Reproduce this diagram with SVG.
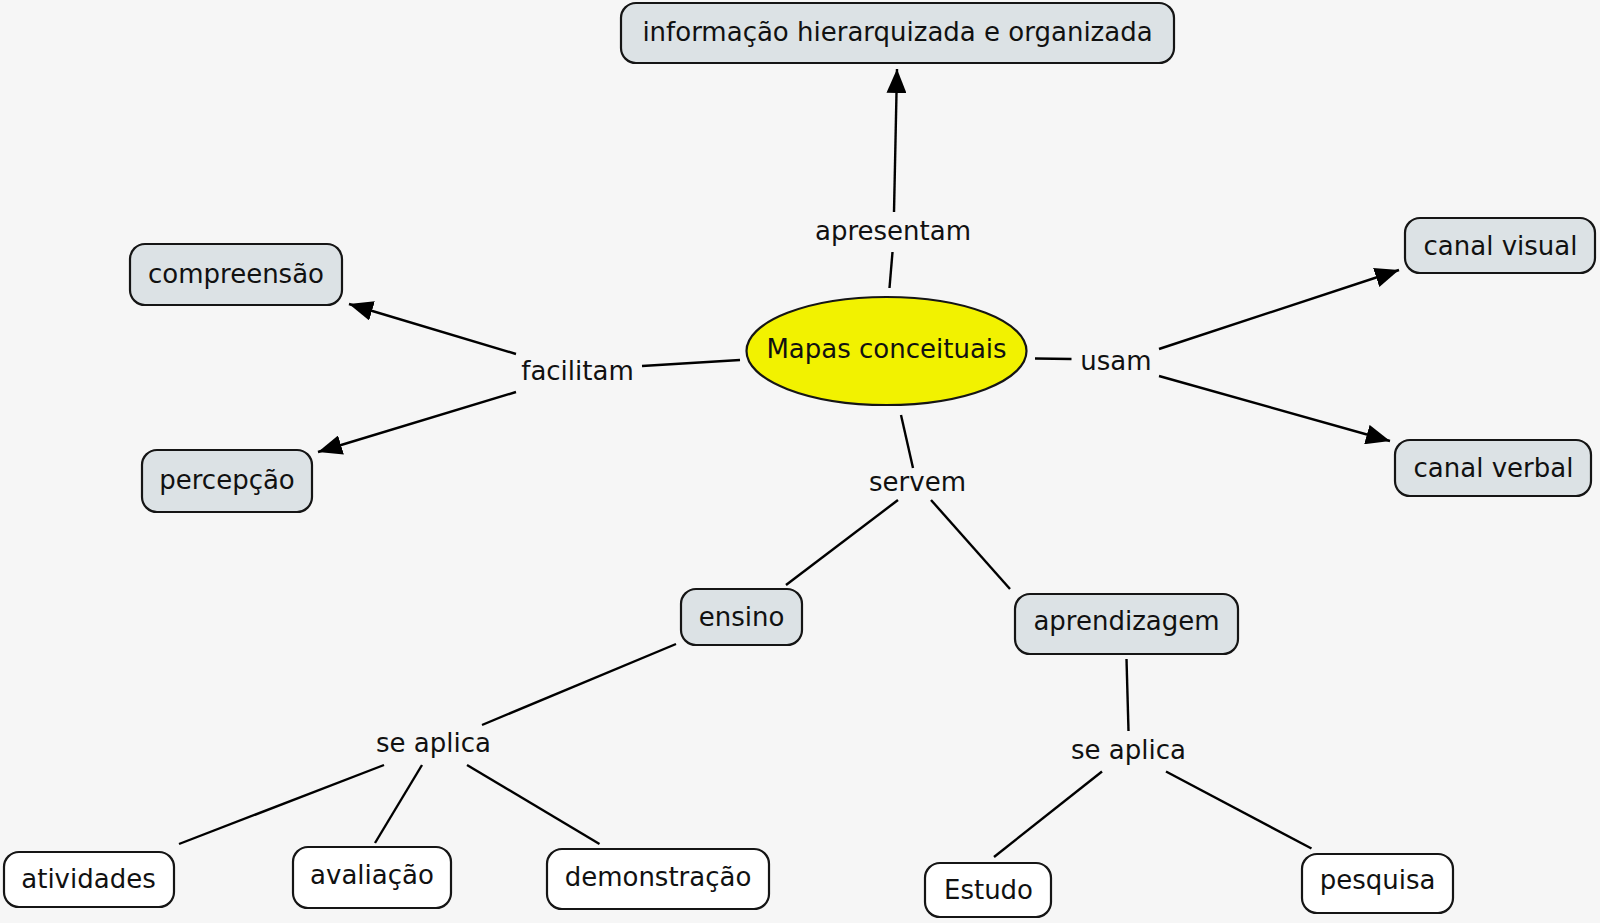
<svg xmlns="http://www.w3.org/2000/svg" width="1600" height="923" viewBox="0 0 1600 923">
<defs>
<marker id="arr" viewBox="0 0 24 20" refX="24" refY="10" markerWidth="24" markerHeight="20" markerUnits="userSpaceOnUse" orient="auto">
<path d="M0,0 L24,10 L0,20 Z" fill="#000"/>
</marker>
</defs>
<style>
text{font-family:"DejaVu Sans","Liberation Sans",sans-serif;font-size:26px;fill:#111111;text-anchor:middle}
.box{fill:#dce2e5;stroke:#151515;stroke-width:2.2}
.wbox{fill:#ffffff;stroke:#151515;stroke-width:2.2}
.ln{stroke:#000;stroke-width:2.4;fill:none}
.ar{stroke:#000;stroke-width:2.4;fill:none;marker-end:url(#arr)}
</style>
<rect width="1600" height="923" fill="#f6f6f6"/>
<g id="connectors">
<line class="ar" x1="894" y1="212" x2="897" y2="69"/>
<line class="ln" x1="892.5" y1="252" x2="889.5" y2="288"/>
<line class="ln" x1="642" y1="366" x2="740" y2="360"/>
<line class="ar" x1="516" y1="354" x2="349" y2="304"/>
<line class="ar" x1="516" y1="392" x2="318" y2="452"/>
<line class="ln" x1="1035" y1="358.5" x2="1071.5" y2="359"/>
<line class="ar" x1="1159" y1="349" x2="1399" y2="270"/>
<line class="ar" x1="1159" y1="376" x2="1390" y2="441"/>
<line class="ln" x1="901" y1="415" x2="913" y2="468"/>
<line class="ln" x1="898" y1="500" x2="786" y2="585"/>
<line class="ln" x1="931" y1="500" x2="1010" y2="589"/>
<line class="ln" x1="676" y1="644" x2="482" y2="725"/>
<line class="ln" x1="384" y1="765" x2="179" y2="844"/>
<line class="ln" x1="422" y1="765" x2="375" y2="843"/>
<line class="ln" x1="467" y1="765" x2="599.5" y2="844"/>
<line class="ln" x1="1126.5" y1="659" x2="1128.5" y2="731"/>
<line class="ln" x1="1102" y1="771.5" x2="994" y2="857"/>
<line class="ln" x1="1166" y1="771.5" x2="1311.5" y2="848.5"/>
</g>
<g id="label-apresentam"><text x="893" y="240">apresentam</text></g>
<g id="label-facilitam"><text x="577.5" y="380">facilitam</text></g>
<g id="label-usam"><text x="1116" y="370">usam</text></g>
<g id="label-servem"><text x="917.5" y="491">servem</text></g>
<g id="label-se-aplica-1"><text x="433.5" y="752">se aplica</text></g>
<g id="label-se-aplica-2"><text x="1128.5" y="759">se aplica</text></g>
<g id="node-mapas"><ellipse cx="886.5" cy="351" rx="140" ry="54" fill="#f2f200" stroke="#151515" stroke-width="2.2"/><text x="886.5" y="358">Mapas conceituais</text></g>
<g id="node-informacao"><rect class="box" x="621" y="3" width="553" height="60" rx="15"/><text x="897.5" y="41">informação hierarquizada e organizada</text></g>
<g id="node-compreensao"><rect class="box" x="130" y="244" width="212" height="61" rx="15"/><text x="236" y="283">compreensão</text></g>
<g id="node-percepcao"><rect class="box" x="142" y="450" width="170" height="62" rx="15"/><text x="227" y="489">percepção</text></g>
<g id="node-canal-visual"><rect class="box" x="1405" y="218" width="190" height="55" rx="15"/><text x="1500.5" y="255">canal visual</text></g>
<g id="node-canal-verbal"><rect class="box" x="1395" y="440" width="196" height="56" rx="15"/><text x="1493.5" y="477">canal verbal</text></g>
<g id="node-ensino"><rect class="box" x="681" y="589" width="121" height="56" rx="15"/><text x="741.5" y="626">ensino</text></g>
<g id="node-aprendizagem"><rect class="box" x="1015" y="594" width="223" height="60" rx="15"/><text x="1126.5" y="630">aprendizagem</text></g>
<g id="node-atividades"><rect class="wbox" x="4" y="852" width="170" height="55" rx="15"/><text x="88.5" y="888">atividades</text></g>
<g id="node-avaliacao"><rect class="wbox" x="293" y="847" width="158" height="61" rx="15"/><text x="372" y="884">avaliação</text></g>
<g id="node-demonstracao"><rect class="wbox" x="547" y="849" width="222" height="60" rx="15"/><text x="658" y="886">demonstração</text></g>
<g id="node-estudo"><rect class="wbox" x="925" y="863" width="126" height="54" rx="15"/><text x="988.5" y="899">Estudo</text></g>
<g id="node-pesquisa"><rect class="wbox" x="1302" y="854" width="151" height="59" rx="15"/><text x="1377.5" y="889">pesquisa</text></g>
</svg>
